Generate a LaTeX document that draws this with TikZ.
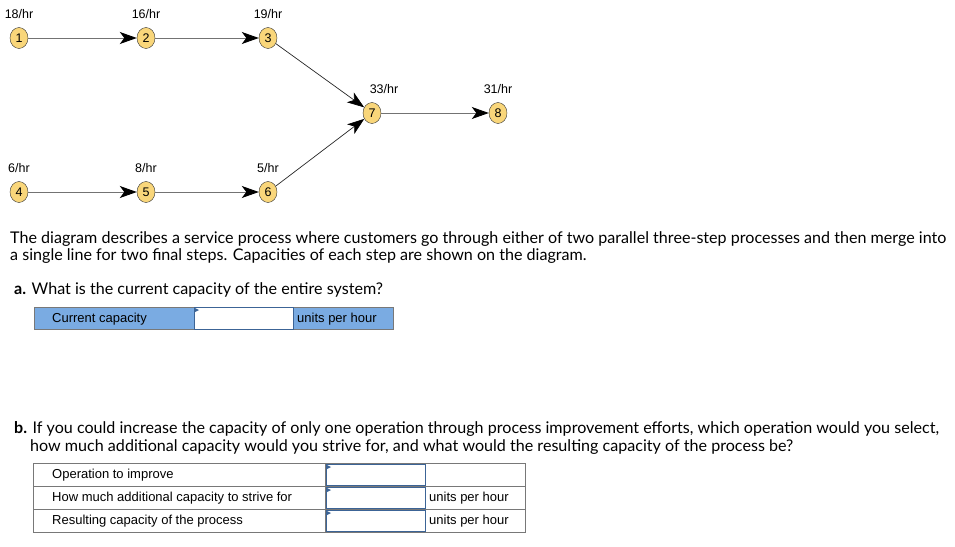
\documentclass[tikz,border=0pt]{standalone}
\usepackage{fontspec}
\setmainfont{Liberation Sans}
\newfontfamily\bodyfont{Lato}
\usetikzlibrary{arrows.meta,shapes.geometric}
\definecolor{stepfill}{RGB}{249,214,122}
\definecolor{cellblue}{RGB}{122,171,226}
\definecolor{boxblue}{RGB}{60,100,150}
\definecolor{gridgray}{RGB}{120,120,120}
\tikzset{
  stepnode/.style={ellipse,draw=black!80,fill=stepfill,inner sep=0pt,minimum width=18pt,minimum height=21pt,font=\fontsize{12.5}{12}\selectfont},
  rate/.style={font=\fontsize{12.5}{12}\selectfont},
  flow/.style={draw=black!55,line width=0.9pt,-{Stealth[length=17pt,width=12pt,inset=4.5pt,black]}},
  slant/.style={draw=black!85,line width=0.7pt,-{Stealth[length=17pt,width=12pt,inset=4.5pt,black]}},
  para/.style={anchor=west,inner sep=0pt,font=\bodyfont\fontsize{16.1}{18}\selectfont},
  cell/.style={anchor=west,inner sep=0pt,font=\fontsize{13}{14}\selectfont},
  answer/.style={draw=boxblue,fill=white,line width=0.6pt},
}
\begin{document}
\begin{tikzpicture}[x=1pt,y=-1pt]
  \useasboundingbox (0,0) rectangle (955,546);
  % upper branch
  \node[stepnode,label={[rate,yshift=5pt]above:18/hr}] (n1) at (19,38) {1};
  \node[stepnode,label={[rate,yshift=5pt]above:16/hr}] (n2) at (146,38) {2};
  \node[stepnode,label={[rate,yshift=5pt]above:19/hr}] (n3) at (268,38) {3};
  % lower branch
  \node[stepnode,label={[rate,yshift=5pt]above:6/hr}] (n4) at (19,192) {4};
  \node[stepnode,label={[rate,yshift=5pt]above:8/hr}] (n5) at (146,192) {5};
  \node[stepnode,label={[rate,yshift=5pt]above:5/hr}] (n6) at (268,192) {6};
  % merged line
  \node[stepnode,label={[rate,yshift=5pt,xshift=12pt]above:33/hr}] (n7) at (372,113) {7};
  \node[stepnode,label={[rate,yshift=5pt]above:31/hr}] (n8) at (498,113) {8};
  \draw[flow] (n1) -- (n2);
  \draw[flow] (n2) -- (n3);
  \draw[flow] (n4) -- (n5);
  \draw[flow] (n5) -- (n6);
  \draw[slant] (n3) -- (n7);
  \draw[slant] (n6) -- (n7);
  \draw[flow] (n7) -- (n8);
  % question text
  \node[para] (intro1) at (10,239) {The diagram describes a service process where customers go through either of two parallel three-step processes and then merge into};
  \node[para] (intro2) at (10,256) {a single line for two final steps. Capacities of each step are shown on the diagram.};
  \node[para] (qa) at (14,290) {\textbf{a.} What is the current capacity of the entire system?};
  % table a
  \fill[cellblue] (34,307) rectangle (393,329);
  \draw[gridgray,line width=0.5pt] (34,307) rectangle (393,329);
  \draw[answer] (194,307) rectangle (293,329);
  \fill[boxblue] (195,308) -- (199,310) -- (195,312) -- cycle;
  \node[cell] (capname) at (52,319) {Current capacity};
  \node[cell] (capunit) at (297,319) {units per hour};
  \node[para] (qb1) at (14,429) {\textbf{b.} If you could increase the capacity of only one operation through process improvement efforts, which operation would you select,};
  \node[para] (qb2) at (30,447) {how much additional capacity would you strive for, and what would the resulting capacity of the process be?};
  % table b
  \draw[gridgray,line width=0.5pt] (33,463) rectangle (525,532);
  \draw[gridgray,line width=0.5pt] (33,486) -- (525,486) (33,509) -- (525,509) (325,463) -- (325,532) (425,463) -- (425,532);
  \foreach \top in {463,486,509}{
    \draw[answer] (326,\top+1) rectangle (425,\top+22);
    \fill[boxblue] (327,\top+2) -- (331,\top+4) -- (327,\top+6) -- cycle;
  }
  \node[cell] (op) at (52,475) {Operation to improve};
  \node[cell] (add) at (52,498) {How much additional capacity to strive for};
  \node[cell] (res) at (52,521) {Resulting capacity of the process};
  \node[cell] (addunit) at (429,498) {units per hour};
  \node[cell] (resunit) at (429,521) {units per hour};
\end{tikzpicture}
\end{document}
